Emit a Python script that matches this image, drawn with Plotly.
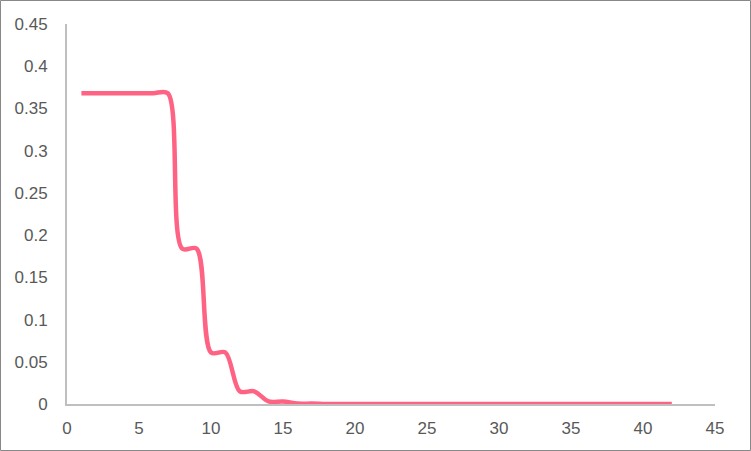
import plotly.graph_objects as go

x_vals = list(range(1, 43))
y_vals = [0.368, 0.368, 0.368, 0.368, 0.368, 0.368, 0.368,
          0.184, 0.184, 0.061, 0.061, 0.015, 0.015, 0.003, 0.003,
          0.0005, 0.0005] + [0.0] * 25

x_ticks = [0, 5, 10, 15, 20, 25, 30, 35, 40, 45]
y_ticks = [0, 0.05, 0.1, 0.15, 0.2, 0.25, 0.3, 0.35, 0.4, 0.45]

W, H = 751, 451
ml, mr, mt, mb = 67, 36, 24, 47
pw, ph = W - ml - mr, H - mt - mb

fig = go.Figure()
fig.add_trace(go.Scatter(
    x=x_vals, y=y_vals, mode="lines",
    line=dict(color="#FF6384", width=4.5, shape="spline", smoothing=0.9),
    showlegend=False, hoverinfo="skip",
))

font = dict(family="Liberation Sans, Arial, sans-serif", size=17, color="#595959")
fig.update_layout(
    width=W, height=H,
    margin=dict(l=ml, r=mr, t=mt, b=mb),
    paper_bgcolor="white", plot_bgcolor="white",
    font=font,
    xaxis=dict(range=[0, 45], tickvals=x_ticks, ticktext=[str(v) for v in x_ticks],
               showgrid=False, zeroline=False, showline=True, linecolor="#BFBFBF",
               linewidth=2, ticks="", ticklen=0, ticklabelstandoff=8),
    yaxis=dict(range=[0, 0.45], tickvals=y_ticks,
               ticktext=["0", "0.05", "0.1", "0.15", "0.2", "0.25", "0.3", "0.35", "0.4", "0.45"],
               showgrid=False, zeroline=False, showline=True, linecolor="#BFBFBF",
               linewidth=2, ticks="", ticklen=0, ticklabelstandoff=14),
    shapes=[dict(type="rect", xref="paper", yref="paper",
                 x0=(-ml + 0.5) / pw, x1=1 + (mr - 0.5) / pw,
                 y0=(-mb + 0.5) / ph, y1=1 + (mt - 0.5) / ph,
                 line=dict(color="#888888", width=1), layer="below")],
)
fig.write_html("out.html", config={"displayModeBar": False},
               post_script="document.body.style.margin='0';document.body.style.overflow='hidden';")
